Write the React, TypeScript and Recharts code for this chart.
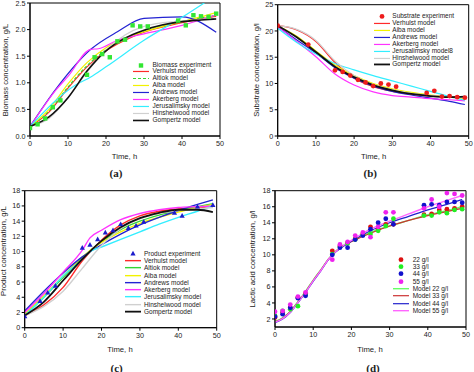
import React from 'react';
import { ComposedChart, Line, Scatter, XAxis, YAxis, ReferenceArea, Legend } from 'recharts';

const FONT = '"Liberation Sans", Arial, Helvetica, sans-serif';
const SERIF = '"Liberation Serif", "Times New Roman", serif';

// ---------- shared ----------
const xTicks = [0, 10, 20, 30, 40, 50];
const modelT = [0, 5, 10, 15, 20, 25, 30, 35, 40, 45, 49];

// ---------- panel (a): biomass ----------
const aExpT = [0, 2, 4, 6, 8, 15, 17, 19, 21, 23, 25, 27, 29, 31, 39, 41, 43, 45, 47, 49];
const aExp = [0.15, 0.22, 0.33, 0.54, 0.67, 1.15, 1.48, 1.54, 1.48, 1.78, 1.81, 2.08, 2.06, 2.06, 2.17, 2.08, 2.27, 2.25, 2.24, 2.3];
const aVerhulst = [0.18, 0.45, 0.9, 1.3, 1.6, 1.8, 1.95, 2.05, 2.13, 2.2, 2.25];
const aAltiok = [0.18, 0.47, 0.92, 1.32, 1.62, 1.82, 1.97, 2.07, 2.15, 2.22, 2.27];
const aAiba = [0.18, 0.5, 0.98, 1.38, 1.66, 1.84, 1.96, 2.06, 2.15, 2.24, 2.32];
const aAndrewsT = [0, 7, 16, 23, 30, 40, 49];
const aAndrews = [0.18, 0.9, 1.63, 1.96, 2.21, 2.24, 1.95];
const aAkerbergT = [0, 7, 10, 16, 18, 23, 30, 40, 49];
const aAkerberg = [0.17, 0.88, 1.12, 1.63, 1.64, 1.8, 1.92, 2.08, 2.28];
const aJerusT = [0, 12, 16, 20, 30, 40, 49];
const aJerus = [0.18, 0.96, 1.11, 1.3, 1.8, 2.23, 2.65];
const aHinshel = [0.18, 0.33, 0.72, 1.2, 1.62, 1.9, 2.06, 2.13, 2.16, 2.19, 2.21];
const aGompertz = [0.18, 0.36, 0.72, 1.22, 1.6, 1.84, 1.99, 2.09, 2.15, 2.18, 2.2];
const aTicks = [0, 0.5, 1, 1.5, 2, 2.5];

// ---------- panel (b): substrate ----------
const bExpT = [0, 8, 15, 17, 19, 21, 23, 25, 27, 29, 31, 39, 41, 43, 45, 47, 49];
const bExp = [21.0, 17.4, 12.5, 12.2, 11.5, 10.7, 10.2, 9.5, 10.0, 9.8, 9.4, 8.2, 8.6, 7.5, 7.6, 7.4, 7.3];
const bVerhulst = [21, 20.2, 18.0, 14.0, 11.0, 9.4, 8.5, 7.9, 7.6, 7.5, 7.4];
const bAiba = [21, 19.0, 16.2, 13.5, 11.5, 10.0, 9.0, 8.3, 7.8, 7.4, 7.1];
const bAndrews = [20.8, 18.3, 15.8, 13.0, 11.0, 9.5, 8.5, 7.8, 7.2, 6.6, 6.0];
const bAkerberg = [20.8, 18.0, 15.1, 11.8, 9.7, 8.4, 7.7, 7.4, 7.1, 6.9, 6.7];
const bJerus = [20.5, 17.8, 15.6, 13.8, 12.6, 11.5, 10.5, 9.5, 8.5, 7.5, 6.8];
const bHinshel = [21, 20.3, 18.2, 14.3, 11.5, 9.8, 8.8, 8.1, 7.7, 7.4, 7.3];
const bGompertz = [21, 18.8, 16.0, 13.2, 11.2, 9.7, 8.7, 8.0, 7.6, 7.4, 7.5];
const bTicks = [0, 5, 10, 15, 20, 25];

// ---------- panel (c): product ----------
const cExpT = [0, 4, 6, 8, 15, 17, 19, 21, 23, 25, 27, 29, 31, 39, 41, 45, 49];
const cExp = [1.5, 3.5, 4.6, 5.5, 10.5, 10.9, 11.6, 12.5, 12.8, 13.6, 13.1, 13.4, 13.9, 15.1, 14.7, 15.9, 16.1];
const cVerhulst = [1.6, 3.0, 5.3, 8.8, 11.5, 13.5, 14.7, 15.3, 15.6, 15.8, 15.9];
const cAltiok = [1.6, 4.0, 6.6, 9.2, 11.3, 12.9, 14.0, 14.8, 15.4, 15.9, 16.3];
const cAiba = [1.8, 4.2, 6.8, 9.3, 11.2, 12.6, 13.7, 14.5, 15.2, 15.8, 16.2];
const cAndrews = [2.2, 4.8, 7.2, 9.3, 10.9, 12.3, 13.5, 14.5, 15.4, 16.2, 16.8];
const cAkerbergT = [0, 5, 10, 15, 17, 20, 25, 30, 35, 40, 45, 49];
const cAkerberg = [2.0, 4.5, 7.3, 10.2, 11.8, 12.8, 14.2, 15.0, 15.5, 15.8, 15.9, 16.0];
const cJerusT = [0, 5, 10, 15, 17, 20, 25, 30, 35, 40, 45, 49];
const cJerus = [1.6, 4.0, 6.8, 9.0, 10.0, 10.6, 11.6, 12.6, 13.6, 14.5, 15.3, 16.0];
const cHinshel = [1.6, 2.8, 4.8, 7.8, 10.8, 13.0, 14.3, 15.0, 15.4, 15.6, 15.8];
const cGompertz = [1.6, 3.4, 6.2, 9.0, 11.4, 13.2, 14.4, 15.1, 15.5, 15.5, 15.2];
const cTicks = [0, 2, 4, 6, 8, 10, 12, 14, 16, 18];

// ---------- panel (d): lactic acid ----------
const dExpT = [0, 2, 4, 6, 8, 15, 17, 19, 21, 23, 25, 27, 29, 31, 39, 41, 43, 45, 47, 49];
const d22 = [2.2, 2.8, 3.4, 4.7, 5.2, 10.5, 11.1, 11.5, 12.0, 12.6, 13.5, 13.2, 13.8, 13.8, 15.0, 15.1, 15.6, 15.7, 15.8, 16.0];
const d33 = [2.4, 3.0, 3.2, 3.6, 5.0, 10.1, 11.0, 11.4, 11.9, 12.5, 12.6, 13.0, 13.6, 14.5, 14.9, 14.9, 15.3, 15.2, 15.6, 15.7];
const d44 = [2.3, 2.6, 3.4, 4.6, 4.9, 10.0, 10.9, 10.9, 11.9, 12.4, 13.2, 14.0, 14.5, 13.8, 16.2, 16.3, 16.2, 16.6, 16.6, 16.5];
const d55 = [2.9, 3.0, 3.8, 4.8, 5.3, 9.4, 11.3, 11.6, 12.4, 12.8, 12.2, 13.5, 15.3, 15.3, 15.8, 16.9, 16.0, 17.7, 17.6, 17.4];
const dModelT = [0, 2, 4, 6, 8, 10, 12, 14, 16, 18, 20, 25, 30, 35, 40, 45, 49];
const dM22 = [1.7, 2.15, 2.95, 4.15, 5.45, 6.85, 8.15, 9.5, 10.5, 11.2, 11.7, 12.8, 13.6, 14.3, 15.0, 15.5, 16.0];
const dM33 = [1.65, 2.1, 2.9, 4.1, 5.4, 6.8, 8.1, 9.45, 10.45, 11.15, 11.65, 12.7, 13.6, 14.3, 14.9, 15.4, 15.8];
const dM44 = [1.55, 2.0, 2.8, 4.0, 5.3, 6.7, 8.0, 9.4, 10.4, 11.1, 11.7, 13.0, 14.0, 14.8, 15.6, 16.3, 16.9];
const dM55 = [1.6, 2.05, 2.85, 4.05, 5.35, 6.75, 8.05, 9.45, 10.45, 11.2, 11.8, 13.2, 14.2, 15.1, 16.0, 16.8, 17.4];
const dTicks = [2, 4, 6, 8, 10, 12, 14, 16, 18];

// ---------- helpers ----------
type Pt = { t: number; v: number };
const rows = (ts: number[], vs: number[]): Pt[] => ts.map((t, i) => ({ t, v: vs[i] }));

type Kind = 'line' | 'dash' | 'square' | 'circle' | 'triangle';
type Series = { name: string; color: string; data: Pt[]; w?: number; dash?: string; kind: Kind };

const C = {
  red: '#ff2a2a',
  green: '#33d633',
  yellow: '#f2f200',
  blue: '#2323d2',
  magenta: '#ff33ff',
  cyan: '#33eeff',
  gray: '#d0d0d0',
  black: '#111111',
};

function Marker({ kind, color, cx, cy, w, dash }: { kind: Kind; color: string; cx: number; cy: number; w?: number; dash?: string }) {
  if (kind === 'square') return <rect x={cx - 2.2} y={cy - 2.2} width={4.4} height={4.4} fill={color} />;
  if (kind === 'circle') return <circle cx={cx} cy={cy} r={2.4} fill={color} />;
  if (kind === 'triangle')
    return <polygon points={`${cx},${cy - 2.8} ${cx - 2.6},${cy + 1.9} ${cx + 2.6},${cy + 1.9}`} fill={color} />;
  return (
    <line x1={cx - 8} x2={cx + 8} y1={cy} y2={cy} stroke={color} strokeWidth={w ?? 1.2} strokeDasharray={kind === 'dash' ? '3 2' : dash} />
  );
}

function LegendBox({ items, rowH, gap }: { items: Series[]; rowH: number; gap: number }) {
  return (
    <div style={{ fontFamily: FONT, fontSize: 6.5, color: '#222', lineHeight: `${rowH}px` }}>
      {items.map((it) => (
        <div key={it.name} style={{ display: 'flex', alignItems: 'center', height: rowH }}>
          <svg width={16} height={rowH} style={{ flex: 'none', display: 'block' }}>
            <Marker kind={it.kind} color={it.color} cx={8} cy={rowH / 2} w={it.w} />
          </svg>
          <span style={{ marginLeft: gap, whiteSpace: 'nowrap' }}>{it.name}</span>
        </div>
      ))}
    </div>
  );
}

type PanelProps = {
  left: number;
  top: number;
  margin: { top: number; right: number; bottom: number; left: number };
  yWidth: number;
  xHeight: number;
  yDomain: [number, number];
  yTicks: number[];
  yFmt?: (v: number) => string;
  series: Series[];
  legendItems: Series[];
  legendPos: { left: number; top: number };
  rowH: number;
  gap: number;
};

function Panel(p: PanelProps) {
  const lines = p.series.filter((s) => s.kind === 'line' || s.kind === 'dash');
  const points = p.series.filter((s) => !(s.kind === 'line' || s.kind === 'dash'));
  return (
    <div style={{ position: 'absolute', left: p.left, top: p.top, fontFamily: FONT }}>
      <ComposedChart width={237} height={186} margin={p.margin}>
        <XAxis
          dataKey="t"
          type="number"
          domain={[0, 50]}
          ticks={xTicks}
          allowDataOverflow
          height={p.xHeight}
          tickSize={3}
          tickMargin={2}
          stroke="#000"
          tick={{ fontSize: 7.2, fill: '#222', fontFamily: FONT }}
          interval={0}
        />
        <YAxis
          type="number"
          domain={p.yDomain}
          ticks={p.yTicks}
          allowDataOverflow
          width={p.yWidth}
          tickSize={3}
          tickMargin={1.5}
          stroke="#000"
          tickFormatter={p.yFmt}
          tick={{ fontSize: 7.2, fill: '#222', fontFamily: FONT }}
          interval={0}
        />
        <ReferenceArea x1={0} x2={50} y1={p.yDomain[0]} y2={p.yDomain[1]} fill="none" stroke="#000" strokeWidth={1} />
        {lines.map((s) => (
          <Line
            key={s.name}
            data={s.data}
            dataKey="v"
            type="monotone"
            stroke={s.color}
            strokeWidth={s.w ?? 1.2}
            strokeDasharray={s.kind === 'dash' ? '3 2' : undefined}
            dot={false}
            activeDot={false}
            isAnimationActive={false}
          />
        ))}
        {points.map((s) => (
          <Scatter
            key={s.name}
            data={s.data}
            dataKey="v"
            fill={s.color}
            isAnimationActive={false}
            shape={(sp: any) => <Marker kind={s.kind} color={s.color} cx={sp.cx} cy={sp.cy} />}
          />
        ))}
        <Legend
          layout="vertical"
          align="center"
          verticalAlign="middle"
          wrapperStyle={{ left: p.legendPos.left, top: p.legendPos.top, width: 'auto', height: 'auto' }}
          content={() => <LegendBox items={p.legendItems} rowH={p.rowH} gap={p.gap} />}
        />
      </ComposedChart>
    </div>
  );
}

function Txt({ x, y, children, rotate, size = 7.7, serif, bold }: { x: number; y: number; children: React.ReactNode; rotate?: boolean; size?: number; serif?: boolean; bold?: boolean }) {
  return (
    <div
      style={{
        position: 'absolute',
        left: x,
        top: y,
        transform: `translate(-50%, -50%)${rotate ? ' rotate(-90deg)' : ''}`,
        whiteSpace: 'nowrap',
        fontSize: size,
        fontFamily: serif ? SERIF : FONT,
        fontWeight: bold ? 'bold' : 'normal',
        color: '#222',
        lineHeight: 1,
      }}
    >
      {children}
    </div>
  );
}

export default function App() {
  const aSeries: Series[] = [
    { name: 'Verhulst model', color: C.red, data: rows(modelT, aVerhulst), kind: 'line' },
    { name: 'Altiok model', color: C.green, data: rows(modelT, aAltiok), kind: 'dash' },
    { name: 'Aiba model', color: C.yellow, data: rows(modelT, aAiba), kind: 'line' },
    { name: 'Andrews model', color: C.blue, data: rows(aAndrewsT, aAndrews), kind: 'line' },
    { name: 'Akerberg model', color: C.magenta, data: rows(aAkerbergT, aAkerberg), kind: 'line' },
    { name: 'Jerusalimsky model', color: C.cyan, data: rows(aJerusT, aJerus), kind: 'line' },
    { name: 'Hinshelwood model', color: C.gray, data: rows(modelT, aHinshel), kind: 'line' },
    { name: 'Gompertz model', color: C.black, data: rows(modelT, aGompertz), kind: 'line', w: 1.6 },
  ];
  const aExpS: Series = { name: 'Biomass experiment', color: '#33e633', data: rows(aExpT, aExp), kind: 'square' };

  const bSeries: Series[] = [
    { name: 'Verhulst model', color: C.red, data: rows(modelT, bVerhulst), kind: 'line' },
    { name: 'Aiba model', color: C.yellow, data: rows(modelT, bAiba), kind: 'line' },
    { name: 'Andrews model', color: C.blue, data: rows(modelT, bAndrews), kind: 'line' },
    { name: 'Akerberg model', color: C.magenta, data: rows(modelT, bAkerberg), kind: 'line' },
    { name: 'Jerusalimsky model8', color: C.cyan, data: rows(modelT, bJerus), kind: 'line' },
    { name: 'Hinshelwood model', color: C.gray, data: rows(modelT, bHinshel), kind: 'line' },
    { name: 'Gompertz model', color: C.black, data: rows(modelT, bGompertz), kind: 'line', w: 1.8 },
  ];
  const bExpS: Series = { name: 'Substrate experiment', color: '#ee1c1c', data: rows(bExpT, bExp), kind: 'circle' };

  const cSeries: Series[] = [
    { name: 'Verhulst model', color: C.red, data: rows(modelT, cVerhulst), kind: 'line', w: 1.4 },
    { name: 'Altiok model', color: C.green, data: rows(modelT, cAltiok), kind: 'line', w: 1.4 },
    { name: 'Aiba model', color: C.yellow, data: rows(modelT, cAiba), kind: 'line', w: 1.4 },
    { name: 'Andrews model', color: C.blue, data: rows(modelT, cAndrews), kind: 'line', w: 1.4 },
    { name: 'Akerberg model', color: C.magenta, data: rows(cAkerbergT, cAkerberg), kind: 'line', w: 1.4 },
    { name: 'Jerusalimsky model', color: C.cyan, data: rows(cJerusT, cJerus), kind: 'line', w: 1.4 },
    { name: 'Hinshelwood model', color: C.gray, data: rows(modelT, cHinshel), kind: 'line', w: 1.4 },
    { name: 'Gompertz model', color: C.black, data: rows(modelT, cGompertz), kind: 'line', w: 1.8 },
  ];
  const cExpS: Series = { name: 'Product experiment', color: '#1c1ccc', data: rows(cExpT, cExp), kind: 'triangle' };

  const dPts: Series[] = [
    { name: '22 g/l', color: '#dd1111', data: rows(dExpT, d22), kind: 'circle' },
    { name: '33 g/l', color: '#22ee22', data: rows(dExpT, d33), kind: 'circle' },
    { name: '44 g/l', color: '#1111cc', data: rows(dExpT, d44), kind: 'circle' },
    { name: '55 g/l', color: '#ee22ee', data: rows(dExpT, d55), kind: 'circle' },
  ];
  const dLines: Series[] = [
    { name: 'Model 22 g/l', color: '#66ff66', data: rows(dModelT, dM22), kind: 'line', w: 1.4 },
    { name: 'Model 33 g/l', color: '#cc3333', data: rows(dModelT, dM33), kind: 'line', w: 1.2 },
    { name: 'Model 44 g/l', color: '#2222cc', data: rows(dModelT, dM44), kind: 'line', w: 1.2 },
    { name: 'Model 55 g/l', color: '#ff66ff', data: rows(dModelT, dM55), kind: 'line', w: 1.4 },
  ];

  return (
    <div style={{ position: 'absolute', left: 0, top: 0, width: 474, height: 372, background: '#fff', overflow: 'hidden' }}>
      <Panel
        left={0}
        top={0}
        margin={{ top: 3, right: 17, bottom: 0, left: 0 }}
        yWidth={30}
        xHeight={50}
        yDomain={[0, 2.5]}
        yTicks={aTicks}
        yFmt={(v) => v.toFixed(1)}
        series={[...aSeries, aExpS]}
        legendItems={[aExpS, ...aSeries]}
        legendPos={{ left: 133, top: 61.5 }}
        rowH={6.96}
        gap={3.5}
      />
      <Panel
        left={237}
        top={0}
        margin={{ top: 4.7, right: 5.3, bottom: 0, left: 0 }}
        yWidth={40.7}
        xHeight={50}
        yDomain={[0, 25]}
        yTicks={bTicks}
        series={[...bSeries, bExpS]}
        legendItems={[bExpS, ...bSeries]}
        legendPos={{ left: 137, top: 13.2 }}
        rowH={6.9}
        gap={2.3}
      />
      <Panel
        left={0}
        top={186}
        margin={{ top: 4.7, right: 20.3, bottom: 0, left: 0 }}
        yWidth={24.7}
        xHeight={44.3}
        yDomain={[0, 18]}
        yTicks={cTicks}
        series={[...cSeries, cExpS]}
        legendItems={[cExpS, ...cSeries]}
        legendPos={{ left: 125, top: 63.7 }}
        rowH={7.3}
        gap={3}
      />
      <Panel
        left={237}
        top={186}
        margin={{ top: 4.7, right: 8, bottom: 0, left: 0 }}
        yWidth={38}
        xHeight={45}
        yDomain={[1, 18]}
        yTicks={dTicks}
        series={[...dLines, ...dPts]}
        legendItems={[...dPts, ...dLines]}
        legendPos={{ left: 156.3, top: 69.6 }}
        rowH={7.39}
        gap={3.4}
      />

      <Txt x={124.5} y={156.7}>Time, h</Txt>
      <Txt x={6} y={70} rotate>Biomass concentration, g/L</Txt>
      <Txt x={116} y={173} size={11} serif bold>(a)</Txt>

      <Txt x={373.7} y={156.7}>Time, h</Txt>
      <Txt x={257} y={70} rotate>Substrate concentration, g/l</Txt>
      <Txt x={370.3} y={173.3} size={11} serif bold>(b)</Txt>

      <Txt x={120} y={350}>Time, h</Txt>
      <Txt x={3.5} y={251} rotate>Product concentration, g/L</Txt>
      <Txt x={116.7} y={367.7} size={11} serif bold>(c)</Txt>

      <Txt x={370} y={350}>Time, h</Txt>
      <Txt x={252.7} y={259} rotate>Lactic acid concentration, g/l</Txt>
      <Txt x={373} y={367.7} size={11} serif bold>(d)</Txt>
    </div>
  );
}
